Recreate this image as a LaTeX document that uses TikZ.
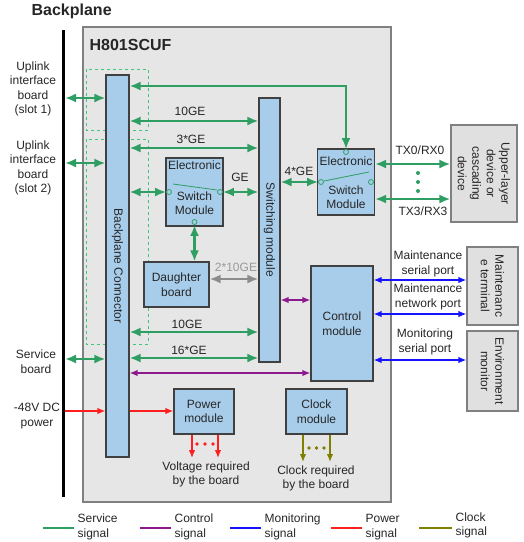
\documentclass[tikz,border=0pt]{standalone}
\usepackage{fontspec}
\setmainfont{Liberation Sans}
\usetikzlibrary{positioning,arrows.meta}

\definecolor{svcgreen}{RGB}{46,158,98}
\definecolor{slotgreen}{RGB}{60,200,120}
\definecolor{ctlpurple}{RGB}{140,26,140}
\definecolor{monblue}{RGB}{20,20,255}
\definecolor{pwrred}{RGB}{255,30,30}
\definecolor{clkolive}{RGB}{128,128,0}
\definecolor{modblue}{RGB}{168,205,235}
\definecolor{boardgray}{RGB}{230,230,230}
\definecolor{devgray}{RGB}{224,224,224}

\begin{document}
\begin{tikzpicture}[x=1pt,y=-1pt,>={Latex[length=11pt,width=9pt]},semithick,
    every node/.style={font=\fontsize{12}{14.5}\selectfont,text=black!85},
    title/.style={font=\fontsize{16}{19}\selectfont\bfseries,anchor=west},
    mod/.style={draw=black!75,fill=modblue,line width=1.1pt,inner sep=0pt},
    dev/.style={draw=black!50,fill=devgray,line width=1.1pt,inner sep=0pt},
    port/.style={circle,draw=svcgreen,fill=modblue,line width=0.8pt,inner sep=0pt,minimum size=5pt},
    svcline/.style={<->,draw=svcgreen,line width=2.6pt},
    ctlline/.style={{Latex[length=8pt,width=6.5pt]}-{Latex[length=8pt,width=6.5pt]},draw=ctlpurple,line width=1.4pt},
    monline/.style={{Latex[length=8pt,width=6.5pt]}-{Latex[length=8pt,width=6.5pt]},draw=monblue,line width=1.4pt},
    pwrline/.style={-{Latex[length=8pt,width=6.5pt]},draw=pwrred,line width=1.4pt},
    clkline/.style={-{Latex[length=8pt,width=6.5pt]},draw=clkolive,line width=1.4pt}]

\useasboundingbox (0,0) rectangle (524,542);

\node[title] (bpname) at (28,11) {Backplane};
\draw[line width=3pt] (63,30) -- (63,497);

\node[draw=black!50,fill=boardgray,line width=1.3pt,inner sep=0pt,
      minimum width=308pt,minimum height=475pt] (scuf) at (237,264.5) {};
\node[title] (scufname) at (86,45) {H801SCUF};

\draw[slotgreen,dashed,thin] (86,69) rectangle (148,130) (86,139) rectangle (148,344);

\node[mod,minimum width=23pt,minimum height=382pt] (conn) at (117.5,266) {};
\node[rotate=-90] at (conn.center) {Backplane Connector};
\node[mod,minimum width=21pt,minimum height=264pt] (swm) at (269.5,230) {};
\node[rotate=-90] at (swm.center) {Switching module};

\node[mod,minimum width=57pt,minimum height=68pt] (esa) at (194.5,192) {};
\node[below=0pt of esa.north] {Electronic};
\node[above=8pt of esa.south,align=center] {Switch\\Module};
\node[mod,minimum width=57pt,minimum height=66pt] (esb) at (346,182) {};
\node[below=5pt of esb.north] {Electronic};
\node[above=3pt of esb.south,align=center] {Switch\\Module};

\draw[svcgreen,line width=0.8pt] (173,184) -- (217,190) (324,181) -- (369,172);
\node[port] (esaL) at (169,192) {};
\node[port] (esaR) at (220,192) {};
\node[port] (esaB) at (194.5,222) {};
\node[port] (esbL) at (321,182) {};
\node[port] (esbR) at (371,182) {};
\node[port] (esbT) at (346,152) {};

\node[mod,minimum width=65pt,minimum height=45pt,align=center] (dgt) at (176.5,284.5) {Daughter\\board};
\node[mod,minimum width=62pt,minimum height=115pt,align=center] (ctl) at (342,323.5) {Control\\module};
\node[mod,minimum width=60pt,minimum height=45pt,align=center] (pwr) at (204,411.5) {Power\\module};
\node[mod,minimum width=61pt,minimum height=45pt,align=center] (clk) at (316.5,411.5) {Clock\\module};

\node[dev,minimum width=66pt,minimum height=97pt] (upd) at (484,173.5) {};
\node[rotate=-90,align=center] at (upd.center) {Upper-layer\\device or\\cascading\\device};
\node[dev,minimum width=51pt,minimum height=78pt] (mtm) at (492.5,286) {};
\node[rotate=-90,align=center] at (mtm.center) {Maintenanc\\e terminal};
\node[dev,minimum width=51pt,minimum height=80pt] (env) at (492.5,371) {};
\node[rotate=-90,align=center] at (env.center) {Environment\\monitor};

\node[align=center] (ul1) at (33,89) {Uplink\\interface\\board\\(slot 1)};
\node[align=center] (ul2) at (33,168) {Uplink\\interface\\board\\(slot 2)};
\node[align=center] (sb) at (36,361.5) {Service\\board};
\node[align=center] (dcp) at (37,416) {-48V DC\\power};

\coordinate (bp1) at (65,98);
\coordinate (bp2) at (65,163);
\coordinate (bp3) at (65,359);
\coordinate (bp4) at (65,411);
\coordinate (rtop) at (346,86);
\coordinate (r10a) at (0,121);
\coordinate (r3ge) at (0,148);
\coordinate (rtx0) at (0,164);
\coordinate (rtx3) at (0,199);
\coordinate (r2x) at (0,279);
\coordinate (r10b) at (0,332);
\coordinate (r16) at (0,358);
\coordinate (rctl) at (0,300);
\coordinate (rbus) at (0,373);
\coordinate (rms) at (0,280);
\coordinate (rmn) at (0,314);
\coordinate (rmo) at (0,360);

\draw[svcline] (bp1) -- (conn.west |- bp1);
\draw[svcline] (bp2) -- (conn.west |- bp2);
\draw[svcline] (bp3) -- (conn.west |- bp3);
\draw[svcline] (conn.east |- rtop) -- (rtop) -- (esbT.north);
\draw[svcline] (conn.east |- r10a) -- (swm.west |- r10a);
\draw[svcline] (conn.east |- r3ge) -- (swm.west |- r3ge);
\draw[svcline] (conn.east |- esaL) -- (esaL.west);
\draw[svcline] (esaR.east) -- (swm.west |- esaR);
\draw[svcline] (esaB.south) -- (dgt.north -| esaB);
\draw[svcline] (swm.east |- esbL) -- (esbL.west);
\draw[svcline] (esb.east |- rtx0) -- (upd.west |- rtx0);
\draw[svcline] (esb.east |- rtx3) -- (upd.west |- rtx3);
\draw[svcline] (conn.east |- r10b) -- (swm.west |- r10b);
\draw[svcline] (conn.east |- r16) -- (swm.west |- r16);
\draw[<->,draw=black!45,line width=2.6pt] (dgt.east |- r2x) -- (swm.west |- r2x);

\draw[ctlline] (swm.east |- rctl) -- (ctl.west |- rctl);
\draw[ctlline] (conn.east |- rbus) -- (ctl.west |- rbus);

\draw[monline] (ctl.east |- rms) -- (mtm.west |- rms);
\draw[monline] (ctl.east |- rmn) -- (mtm.west |- rmn);
\draw[monline] (ctl.east |- rmo) -- (env.west |- rmo);

\draw[pwrline] (bp4) -- (conn.west |- bp4);
\draw[pwrline] (conn.east |- bp4) -- (pwr.west |- bp4);

\node[align=center] (vlt) at (206,474.5) {Voltage required\\by the board};
\node[align=center] (clkreq) at (316,478.5) {Clock required\\by the board};
\coordinate (pa) at ([xshift=-12pt]pwr.south);
\coordinate (pb) at ([xshift=14pt]pwr.south);
\coordinate (ca) at ([xshift=-13.5pt]clk.south);
\coordinate (cb) at ([xshift=13.5pt]clk.south);
\draw[pwrline] (pa) -- (pa |- vlt.north);
\draw[pwrline] (pb) -- (pb |- vlt.north);
\draw[clkline] (ca) -- (ca |- clkreq.north);
\draw[clkline] (cb) -- (cb |- clkreq.north);

\fill[pwrred] (197,444) circle (1.8pt) (205,444) circle (1.8pt) (213,444) circle (1.8pt);
\fill[clkolive] (309,448) circle (1.8pt) (316.5,448) circle (1.8pt) (324,448) circle (1.8pt);
\fill[svcgreen] (418,173) circle (2pt) (418,182) circle (2pt) (418,191) circle (2pt);

\node at (190,111) {10GE};
\node at (191,139) {3*GE};
\node at (240,177) {GE};
\node at (299,171) {4*GE};
\node[text=black!40] at (236,267) {2*10GE};
\node at (187,324) {10GE};
\node at (189,350) {16*GE};
\node at (420,150) {TX0/RX0};
\node at (423,211) {TX3/RX3};
\node[align=center] at (428,264) {Maintenance\\serial port};
\node[align=center] at (428,297) {Maintenance\\network port};
\node[align=center] at (425,342) {Monitoring\\serial port};

\node[anchor=west,align=left] (lsvc) at (74,527) {Service\\signal};
\node[anchor=west,align=left] (lctl) at (171,527) {Control\\signal};
\node[anchor=west,align=left] (lmon) at (261,527) {Monitoring\\signal};
\node[anchor=west,align=left] (lpwr) at (362,527) {Power\\signal};
\node[anchor=west,align=left] (lclk) at (452,525.5) {Clock\\signal};
\draw[svcgreen,line width=1.6pt] ([yshift=-1pt]lsvc.west) -- ++(-31,0);
\draw[ctlpurple,line width=1.6pt] ([yshift=-1pt]lctl.west) -- ++(-31,0);
\draw[monblue,line width=1.6pt] ([yshift=-1pt]lmon.west) -- ++(-31,0);
\draw[pwrred,line width=1.6pt] ([yshift=-1pt]lpwr.west) -- ++(-31,0);
\draw[clkolive,line width=1.6pt] ([yshift=-2.5pt]lclk.west) -- ++(-33,0);

\end{tikzpicture}
\end{document}
